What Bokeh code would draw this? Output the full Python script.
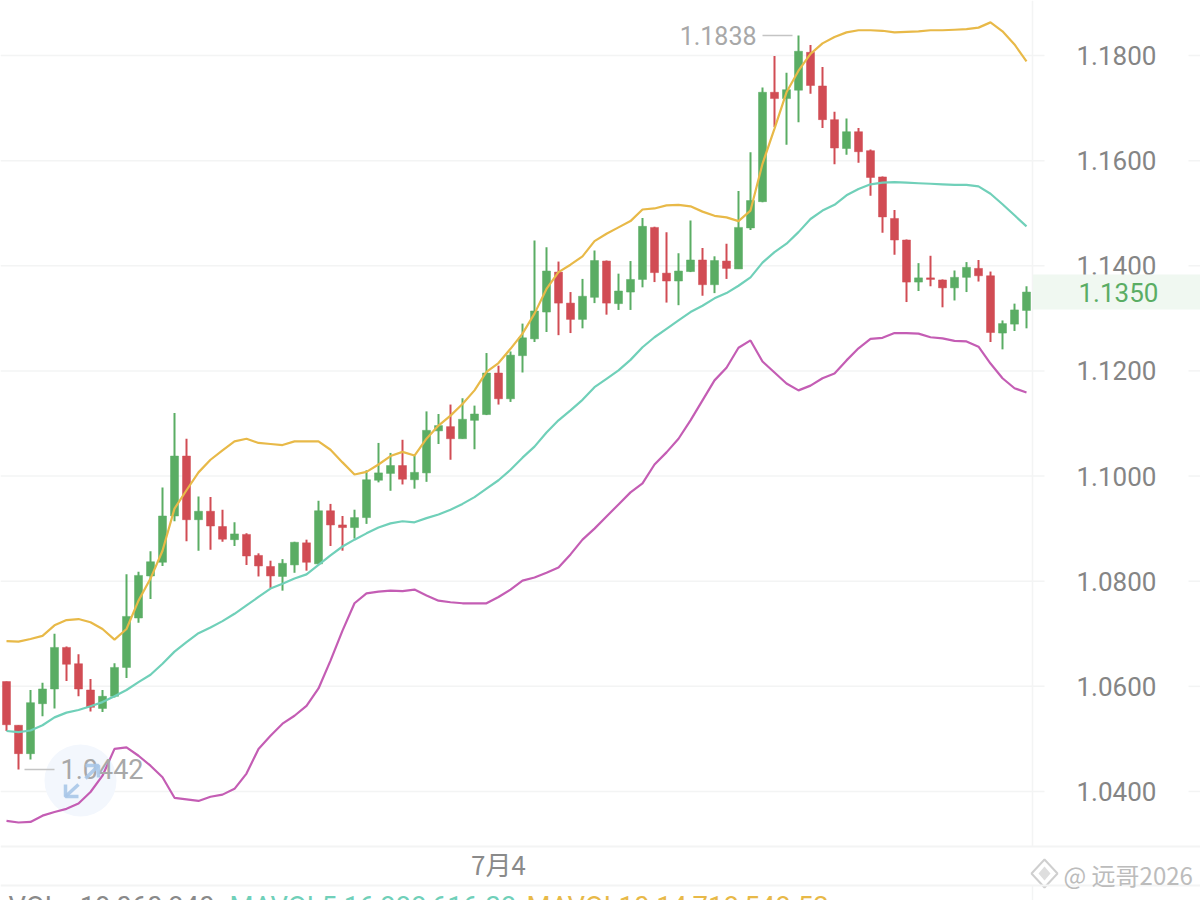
from bokeh.plotting import figure
from bokeh.models import ColumnDataSource, LinearAxis, FixedTicker, NumeralTickFormatter, BoxAnnotation, Span, Label
from bokeh.embed import file_html
from bokeh.resources import INLINE

# --- candle data (price) ---
highs = [1.0609,1.0526,1.0593,1.0607,1.0700,1.0676,1.0661,1.0614,1.0593,1.0644,
         1.0813,1.0818,1.0857,1.0978,1.1120,1.1071,1.0961,1.0960,1.0936,1.0912,
         1.0891,1.0853,1.0839,1.0842,1.0875,1.0879,1.0953,1.0947,1.0924,1.0936,
         1.1011,1.1063,1.1044,1.1069,1.1039,1.1123,1.1118,1.1136,1.1148,1.1134,
         1.1234,1.1210,1.1237,1.1290,1.1448,1.1435,1.1408,1.1350,1.1375,1.1429,
         1.1410,1.1385,1.1409,1.1491,1.1474,1.1464,1.1424,1.1486,1.1434,1.1418,
         1.1442,1.1542,1.1616,1.1739,1.1799,1.1767,1.1838,1.1820,1.1778,1.1693,
         1.1680,1.1662,1.1621,1.1570,1.1506,1.1450,1.1405,1.1419,1.1374,1.1391,
         1.1407,1.1411,1.1389,1.1296,1.1328,1.1361]
lows = [1.0515,1.0442,1.0461,1.0543,1.0558,1.0610,1.0581,1.0552,1.0551,1.0579,
        1.0616,1.0721,1.0766,1.0829,1.0914,1.0876,1.0858,1.0860,1.0875,1.0867,
        1.0831,1.0809,1.0787,1.0782,1.0816,1.0820,1.0832,1.0867,1.0858,1.0881,
        1.0909,1.0988,1.0972,1.0984,1.0976,1.0989,1.1061,1.1031,1.1071,1.1051,
        1.1116,1.1136,1.1141,1.1197,1.1255,1.1274,1.1268,1.1272,1.1281,1.1329,
        1.1307,1.1316,1.1316,1.1359,1.1369,1.1330,1.1325,1.1388,1.1343,1.1348,
        1.1375,1.1394,1.1468,1.1521,1.1664,1.1630,1.1673,1.1727,1.1662,1.1593,
        1.1611,1.1596,1.1533,1.1463,1.1421,1.1331,1.1352,1.1361,1.1321,1.1334,
        1.1350,1.1370,1.1255,1.1241,1.1276,1.1281]
opens = [1.0609,1.0526,1.0472,1.0567,1.0595,1.0674,1.0643,1.0593,1.0558,1.0581,
         1.0636,1.0730,1.0810,1.0836,1.0924,1.1038,1.0917,1.0933,1.0904,1.0879,
         1.0889,1.0849,1.0828,1.0809,1.0831,1.0873,1.0833,1.0934,1.0907,1.0902,
         1.0921,1.0992,1.1005,1.1020,1.0993,1.1006,1.1086,1.1094,1.1071,1.1106,
         1.1117,1.1196,1.1147,1.1229,1.1261,1.1312,1.1388,1.1329,1.1298,1.1340,
         1.1409,1.1328,1.1350,1.1374,1.1473,1.1386,1.1371,1.1389,1.1411,1.1364,
         1.1409,1.1394,1.1472,1.1522,1.1730,1.1718,1.1734,1.1806,1.1742,1.1678,
         1.1623,1.1655,1.1619,1.1569,1.1490,1.1449,1.1369,1.1377,1.1373,1.1358,
         1.1378,1.1395,1.1381,1.1272,1.1289,1.1315]
closes = [1.0527,1.0472,1.0569,1.0595,1.0674,1.0642,1.0595,1.0560,1.0581,1.0636,
          1.0733,1.0811,1.0837,1.0924,1.1038,1.0917,1.0933,1.0905,1.0880,1.0890,
          1.0848,1.0829,1.0810,1.0834,1.0874,1.0836,1.0934,1.0907,1.0902,1.0921,
          1.0993,1.1006,1.1020,1.0994,1.1007,1.1087,1.1096,1.1071,1.1108,1.1118,
          1.1196,1.1147,1.1230,1.1263,1.1314,1.1390,1.1329,1.1298,1.1342,1.1410,
          1.1329,1.1352,1.1374,1.1475,1.1387,1.1371,1.1390,1.1411,1.1364,1.1410,
          1.1395,1.1473,1.1524,1.1730,1.1718,1.1735,1.1808,1.1743,1.1678,1.1624,
          1.1655,1.1617,1.1568,1.1493,1.1449,1.1369,1.1377,1.1374,1.1358,1.1378,
          1.1397,1.1381,1.1273,1.1290,1.1316,1.1350]

# --- Bollinger-style bands (price) ---
upper = [1.0686,1.0685,1.0690,1.0696,1.0716,1.0726,1.0728,1.0722,1.0709,1.0689,
         1.0709,1.0763,1.0805,1.0858,1.0938,1.0973,1.1007,1.1031,1.1049,1.1066,
         1.1071,1.1063,1.1061,1.1059,1.1066,1.1066,1.1066,1.1050,1.1026,1.1003,
         1.1008,1.1022,1.1038,1.1046,1.1039,1.1071,1.1096,1.1115,1.1137,1.1163,
         1.1198,1.1215,1.1242,1.1271,1.1309,1.1356,1.1388,1.1402,1.1418,1.1447,
         1.1461,1.1473,1.1485,1.1507,1.1509,1.1515,1.1516,1.1513,1.1503,1.1495,
         1.1492,1.1485,1.1505,1.1594,1.1661,1.1730,1.1771,1.1803,1.1823,1.1835,
         1.1844,1.1848,1.1848,1.1847,1.1844,1.1845,1.1846,1.1848,1.1848,1.1849,
         1.1850,1.1853,1.1863,1.1846,1.1821,1.1789]
middle = [1.0515,1.0513,1.0516,1.0526,1.0541,1.0550,1.0555,1.0562,1.0570,1.0581,
          1.0593,1.0608,1.0622,1.0643,1.0666,1.0684,1.0701,1.0712,1.0724,1.0738,
          1.0754,1.0770,1.0786,1.0795,1.0805,1.0813,1.0831,1.0849,1.0866,1.0879,
          1.0891,1.0902,1.0910,1.0914,1.0912,1.0920,1.0927,1.0936,1.0947,1.0960,
          1.0976,1.0992,1.1012,1.1035,1.1056,1.1083,1.1106,1.1125,1.1145,1.1169,
          1.1185,1.1201,1.1221,1.1245,1.1264,1.1280,1.1296,1.1312,1.1324,1.1338,
          1.1348,1.1362,1.1378,1.1406,1.1426,1.1442,1.1464,1.1489,1.1505,1.1516,
          1.1534,1.1546,1.1555,1.1558,1.1559,1.1558,1.1557,1.1556,1.1555,1.1554,
          1.1554,1.1551,1.1537,1.1517,1.1496,1.1475]
lower = [1.0344,1.0341,1.0342,1.0354,1.0361,1.0367,1.0377,1.0399,1.0430,1.0481,
         1.0484,1.0468,1.0449,1.0427,1.0388,1.0385,1.0382,1.0390,1.0394,1.0405,
         1.0434,1.0481,1.0506,1.0529,1.0544,1.0563,1.0596,1.0649,1.0706,1.0758,
         1.0777,1.0780,1.0782,1.0781,1.0784,1.0773,1.0763,1.0760,1.0758,1.0758,
         1.0758,1.0770,1.0784,1.0801,1.0807,1.0816,1.0826,1.0851,1.0879,1.0900,
         1.0923,1.0946,1.0969,1.0986,1.1022,1.1045,1.1071,1.1106,1.1144,1.1182,
         1.1206,1.1244,1.1258,1.1218,1.1197,1.1176,1.1163,1.1172,1.1186,1.1195,
         1.1220,1.1243,1.1261,1.1263,1.1272,1.1272,1.1271,1.1264,1.1262,1.1257,
         1.1256,1.1246,1.1214,1.1186,1.1167,1.1159]

# --- labels ---
y_ticks = [1.04, 1.06, 1.08, 1.10, 1.12, 1.14, 1.16, 1.18]
date_index = 41
date_label = "7月4"
last_price = 1.1350
hi_index, hi_price = 66, 1.1838
lo_index, lo_price = 1, 1.0442
vol_texts = ["VOL : 19,060,840", "MAVOL5:16,888,616.38", "MAVOL10:14,718,548.52"]
watermark = "@ 远哥2026"

GREEN, RED = "#5aad64", "#d14c54"
YELLOW, TEAL, MAGENTA = "#e8b948", "#70d0b9", "#c45db4"
GRID = "#f3f4f4"
FONT = "Roboto"
CJK = "Noto Sans CJK SC"

# page pixel helpers, used only for furniture (labels, rules, icon)
def fx(px): return (px - 6) / 12
def fy(py): return 1.19046 - py * 0.00019022

p = figure(width=1200, height=900, output_backend="svg", toolbar_location=None,
           x_range=(fx(0), fx(1200)), y_range=(fy(900), fy(0)),
           x_axis_location=None, y_axis_location=None, min_border=0,
           outline_line_color=None, background_fill_color="white",
           border_fill_color="white",
           styles={"position": "absolute", "left": "0px", "top": "0px"})
p.grid.visible = False

# frame rules
right_gap_l, right_gap_r = fx(1044), fx(1188)
p.segment(x0=[fx(0)] * len(y_ticks), x1=[right_gap_l] * len(y_ticks), y0=y_ticks, y1=y_ticks,
          line_color=GRID, line_width=1.5)
p.segment(x0=[right_gap_r] * len(y_ticks), x1=[fx(1200)] * len(y_ticks), y0=y_ticks, y1=y_ticks,
          line_color=GRID, line_width=1.5)
p.segment(x0=[fx(1032)], x1=[fx(1032)], y0=[fy(0)], y1=[fy(846)], line_color=GRID, line_width=1.5)
p.segment(x0=[fx(1032)], x1=[fx(1032)], y0=[fy(885)], y1=[fy(900)], line_color=GRID, line_width=1.5)
p.add_layout(Span(location=fy(885), dimension="width", line_color=GRID, line_width=2))

# icon backdrop
p.scatter(x=[fx(80)], y=[fy(780)], size=72, marker="circle", fill_color="#f3f7fd",
          line_color=None)

# candles
xs = list(range(len(closes)))
colors = [GREEN if c >= o else RED for o, c in zip(opens, closes)]
src = ColumnDataSource(dict(x=xs, high=highs, low=lows, open=opens, close=closes, color=colors))
p.segment(x0="x", x1="x", y0="low", y1="high", color="color", line_width=2, source=src)
p.vbar(x="x", width=8 / 12, bottom="open", top="close", fill_color="color", line_color="color",
       line_width=0.5, source=src)

# bands
p.line(xs, upper, line_color=YELLOW, line_width=2.2)
p.line(xs, middle, line_color=TEAL, line_width=2.2)
p.line(xs, lower, line_color=MAGENTA, line_width=2.2)

# y axis
ya = LinearAxis(fixed_location=fx(1032), ticker=FixedTicker(ticks=y_ticks),
                formatter=NumeralTickFormatter(format="0.0000"),
                axis_line_color=None, major_tick_line_color=None, minor_tick_line_color=None,
                major_tick_out=0, major_label_standoff=44, major_label_text_font=FONT,
                major_label_text_font_size="26px", major_label_text_color="#858585")
p.add_layout(ya, "right")

# x axis
xa = LinearAxis(fixed_location=fy(846), ticker=FixedTicker(ticks=[date_index]),
                major_label_overrides={date_index: date_label},
                axis_line_color=GRID, axis_line_width=2,
                major_tick_line_color=None, minor_tick_line_color=None,
                major_tick_out=0, major_label_standoff=-2, major_label_text_font=CJK,
                major_label_text_font_size="26px", major_label_text_color="#8a8a8a")
p.add_layout(xa, "below")

# extreme labels
p.segment(x0=[fx(762)], x1=[fx(792)], y0=[hi_price], y1=[hi_price], line_color="#c4c4c4", line_width=1.5)
p.add_layout(Label(x=fx(756), y=hi_price, text=f"{hi_price:.4f}", text_align="right", text_baseline="middle",
                   text_color="#a8a8a8", text_font=FONT, text_font_size="25px"))
p.segment(x0=[fx(24)], x1=[fx(54)], y0=[lo_price], y1=[lo_price], line_color="#c4c4c4", line_width=1.5)
p.add_layout(Label(x=fx(60), y=lo_price, text=f"{lo_price:.4f}", text_align="left", text_baseline="middle",
                   text_color="#a8a8a8", text_font=FONT, text_font_size="27px"))

# icon arrows
arrow_x = [[fx(78), fx(65)], [fx(65), fx(65), fx(78)], [fx(85), fx(98)], [fx(85), fx(98), fx(98)]]
arrow_y = [[fy(784), fy(796)], [fy(784), fy(796), fy(796)], [fy(778), fy(765)], [fy(765), fy(765), fy(777)]]
p.multi_line(arrow_x, arrow_y, line_color="#a9c6e8", line_width=3.5, line_alpha=0.9, level="overlay")

# current price tag
p.add_layout(BoxAnnotation(left=fx(1032.5), right=fx(1200), bottom=fy(309), top=fy(274),
                           fill_color="#f0f8f1", fill_alpha=1, line_color=None))
p.add_layout(Label(x=fx(1078), y=last_price, text=f"{last_price:.4f}", text_align="left",
                   text_baseline="middle", text_color="#5aad64", text_font=FONT,
                   text_font_size="26px"))

# bottom volume row, cut by the page edge as in the reference
vol_x = [8, 229, 526]
vol_colors = ["#8a8a8a", TEAL, YELLOW]
for vx, vt, vc in zip(vol_x, vol_texts, vol_colors):
    p.add_layout(Label(x=fx(vx), y=fy(889), text=vt, text_align="left", text_baseline="top",
                       text_color=vc, text_font=FONT, text_font_size="27.5px"))

# watermark
p.patch(x=[fx(1044), fx(1057), fx(1044), fx(1031)], y=[fy(859), fy(873), fy(887), fy(873)],
        fill_color=None, line_color="#cfcfcf", line_width=2)
p.patch(x=[fx(1044), fx(1050), fx(1044), fx(1038)], y=[fy(866), fy(873), fy(880), fy(873)],
        fill_color="#dedede", line_color=None)
p.add_layout(Label(x=fx(1063), y=fy(874), text=watermark, text_align="left", text_baseline="middle",
                   text_color="#bcbcbc", text_font=CJK, text_font_size="24px"))

open("out.html", "w").write(file_html(p, INLINE))
